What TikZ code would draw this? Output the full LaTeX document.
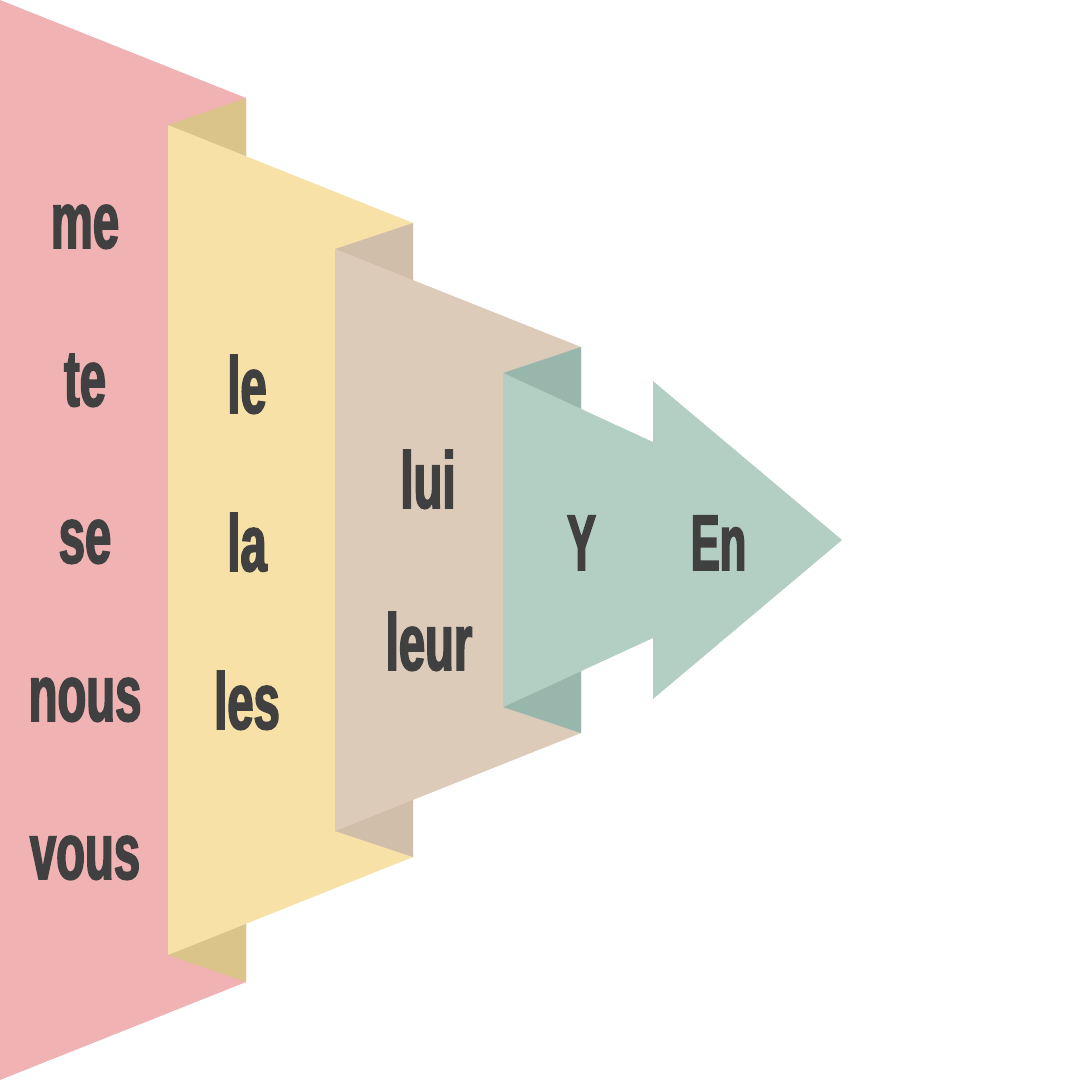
\documentclass[tikz,border=0pt]{standalone}
\usepackage{fontspec}
\newfontfamily\labelfont{Liberation Sans}[FakeStretch=0.59,FakeBold=2]
\newfontfamily\caplabelfont{Liberation Sans}[FakeStretch=0.55,FakeBold=2]
\definecolor{pinkc}{HTML}{F0B2B3}
\definecolor{yellowc}{HTML}{F7E1A7}
\definecolor{yellowd}{HTML}{DBC48A}
\definecolor{tanc}{HTML}{DDCBBA}
\definecolor{tand}{HTML}{D0BDAA}
\definecolor{greenc}{HTML}{B3CFC4}
\definecolor{greend}{HTML}{98B6AB}
\definecolor{textc}{HTML}{404040}
\tikzset{
  word/.style={inner sep=0pt, anchor=base, text=textc,
    font=\labelfont\bfseries\fontsize{80}{80}\selectfont},
  capword/.style={word, font=\caplabelfont\bfseries\fontsize{79}{79}\selectfont}
}
\begin{document}
\begin{tikzpicture}[x=1pt,y=-1pt]
\useasboundingbox (0,0) rectangle (1080,1080);
% pink band
\fill[pinkc] (0,0) -- (246,98) -- (246,982) -- (0,1080) -- cycle;
% yellow folds and band
\fill[yellowd] (168,125) -- (246,98) -- (246,157) -- cycle;
\fill[yellowd] (168,955) -- (246,982) -- (246,923) -- cycle;
\fill[yellowc] (168,125) -- (413,223) -- (413,857) -- (168,955) -- cycle;
% tan folds and band
\fill[tand] (335,249) -- (413,223) -- (413,281) -- cycle;
\fill[tand] (335,831) -- (413,857) -- (413,799) -- cycle;
\fill[tanc] (335,249) -- (581,347) -- (581,733) -- (335,831) -- cycle;
% green folds and arrow
\fill[greend] (503,373) -- (581,347) -- (581,409) -- cycle;
\fill[greend] (503,707) -- (581,733) -- (581,671) -- cycle;
\fill[greenc] (503,373) -- (653,442) -- (653,381) -- (842,540) -- (653,699) -- (653,638) -- (503,707) -- cycle;
% words
\node[word] (me) at (85,248) {me};
\node[word] (te) at (85,406) {te};
\node[word] (se) at (85,563) {se};
\node[word] (nous) at (85,721) {nous};
\node[word] (vous) at (85,879) {vous};
\node[word] (le) at (247,413) {le};
\node[word] (la) at (247,571) {la};
\node[word] (les) at (247,729) {les};
\node[word] (lui) at (428,508) {lui};
\node[word] (leur) at (429,670) {leur};
\node[capword] (y) at (581.5,570) {Y};
\node[capword] (en) at (718.5,570) {En};
\end{tikzpicture}
\end{document}
